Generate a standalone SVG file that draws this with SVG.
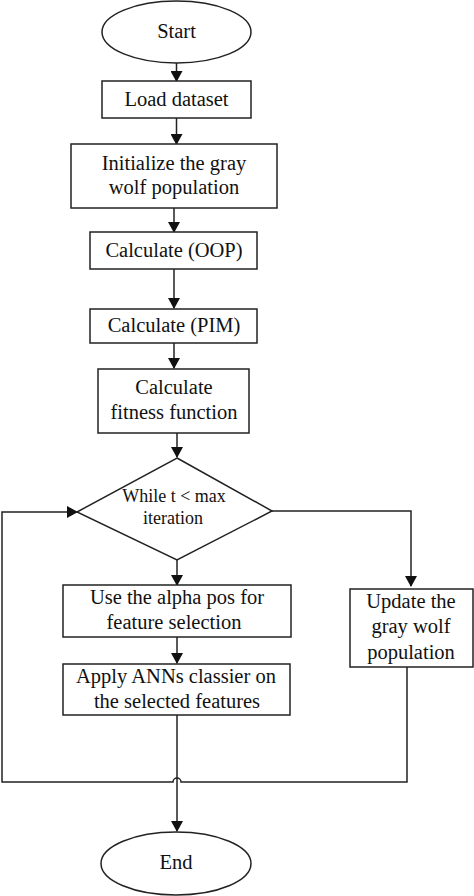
<svg xmlns="http://www.w3.org/2000/svg" width="474" height="896" viewBox="0 0 474 896">
<style>
.shape{fill:#fff;stroke:#222;stroke-width:1.5}
.lbl{font-family:"Liberation Serif","Times New Roman",serif;font-size:20.5px;fill:#111;text-anchor:middle}
.sm{font-size:18px}
.conn path{fill:none;stroke:#222;stroke-width:1.5}
</style>
<defs>
<marker id="ah" markerUnits="userSpaceOnUse" markerWidth="11" markerHeight="12" refX="10" refY="6" orient="auto" viewBox="0 0 11 12">
<path d="M0,0 L11,6 L0,12 z" fill="#111"/>
</marker>
</defs>
<rect width="474" height="896" fill="#fff"/>
<g class="conn">
<path d="M176.5,63 L176.5,81" marker-end="url(#ah)"/>
<path d="M176.5,118 L176.5,144" marker-end="url(#ah)"/>
<path d="M174,208 L174,232" marker-end="url(#ah)"/>
<path d="M174,269 L174,308" marker-end="url(#ah)"/>
<path d="M174,343 L174,368" marker-end="url(#ah)"/>
<path d="M177,433 L177,457" marker-end="url(#ah)"/>
<path d="M177,560 L177,585" marker-end="url(#ah)"/>
<path d="M272,511 L411,511 L411,586" marker-end="url(#ah)"/>
<path d="M177,637 L177,663" marker-end="url(#ah)"/>
<path d="M177,715 L177,831" marker-end="url(#ah)"/>
<path d="M407,667 L407,782 L181,782 A4,4 0 0 0 173,782 L2,782 L2,512 L77,512" marker-end="url(#ah)"/>
</g>
<g id="start">
<ellipse class="shape" cx="176.5" cy="32" rx="74.5" ry="31"/>
<text class="lbl" x="176.5" y="38">Start</text>
</g>
<g id="load">
<rect class="shape" x="102" y="81" width="149" height="37"/>
<text class="lbl" x="176.5" y="106">Load dataset</text>
</g>
<g id="init">
<rect class="shape" x="71" y="144" width="206" height="64"/>
<text class="lbl" x="174" y="170">Initialize the gray</text>
<text class="lbl" x="174" y="194">wolf population</text>
</g>
<g id="oop">
<rect class="shape" x="90" y="232" width="167" height="37"/>
<text class="lbl" x="174" y="257">Calculate (OOP)</text>
</g>
<g id="pim">
<rect class="shape" x="90" y="309" width="167" height="34"/>
<text class="lbl" x="174" y="332">Calculate (PIM)</text>
</g>
<g id="fitness">
<rect class="shape" x="98" y="369" width="151" height="64"/>
<text class="lbl" x="174" y="394">Calculate</text>
<text class="lbl" x="174" y="419">fitness function</text>
</g>
<g id="while">
<polygon class="shape" points="177,458 272,511 177,560 77,512"/>
<text class="lbl sm" x="174" y="502">While t &lt; max</text>
<text class="lbl sm" x="173" y="524">iteration</text>
</g>
<g id="alpha">
<rect class="shape" x="63" y="585" width="228" height="52"/>
<text class="lbl" x="177" y="604">Use the alpha pos for</text>
<text class="lbl" x="174" y="629">feature selection</text>
</g>
<g id="apply">
<rect class="shape" x="63" y="664" width="227" height="51"/>
<text class="lbl" x="176" y="683">Apply ANNs classier on</text>
<text class="lbl" x="177" y="708">the selected features</text>
</g>
<g id="update">
<rect class="shape" x="350" y="589" width="123" height="78"/>
<text class="lbl" x="411" y="608">Update the</text>
<text class="lbl" x="411" y="633">gray wolf</text>
<text class="lbl" x="411" y="659">population</text>
</g>
<g id="end">
<ellipse class="shape" cx="176" cy="863.5" rx="75" ry="31.5"/>
<text class="lbl" x="176" y="869">End</text>
</g>
</svg>
